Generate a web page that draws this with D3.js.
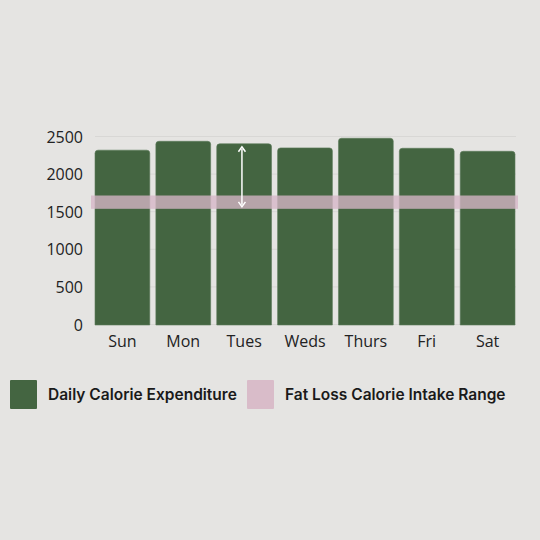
<!DOCTYPE html>
<html>
<head>
<meta charset="utf-8">
<script src="https://cdn.jsdelivr.net/npm/d3@7"></script>
<style>
  body { margin: 0; background: #e5e4e2; }
  svg { display: block; }
</style>
</head>
<body>
<div id="chart"></div>
<script>
  // data
  let days = ["Sun", "Mon", "Tues", "Weds", "Thurs", "Fri", "Sat"];
  let calories = [2325, 2443, 2410, 2355, 2483, 2350, 2310];
  let intakeRange = [1545, 1722];
  let yTicks = [0, 500, 1000, 1500, 2000, 2500];
  let legendLabels = ["Daily Calorie Expenditure", "Fat Loss Calorie Intake Range"];

  const width = 540, height = 540;
  const margin = { top: 137, bottom: 215, left: 95, right: 25 };
  const barColor = "#446541";
  const bandColor = "rgba(214, 182, 198, 0.78)";

  const svg = d3.select("#chart").append("svg")
    .attr("width", width)
    .attr("height", height);

  svg.append("rect").attr("width", width).attr("height", height).attr("fill", "#e5e4e2");

  const x = d3.scaleBand()
    .domain(days)
    .range([margin.left, width - margin.right])
    .paddingInner(0.1)
    .paddingOuter(0);

  const y = d3.scaleLinear()
    .domain([0, 2500])
    .range([325, margin.top]);

  // gridlines
  svg.append("g")
    .selectAll("line")
    .data(yTicks)
    .join("line")
    .attr("x1", margin.left)
    .attr("x2", width - margin.right + 1)
    .attr("y1", d => y(d) - 0.5)
    .attr("y2", d => y(d) - 0.5)
    .attr("stroke", "#d8d7d5")
    .attr("stroke-width", 1);

  // y axis labels
  svg.append("g")
    .attr("transform", `translate(${margin.left - 12},0)`)
    .call(d3.axisLeft(y).tickValues(yTicks).tickFormat(d3.format("d")).tickSize(0).tickPadding(0))
    .call(g => g.select(".domain").remove())
    .call(g => g.selectAll("text")
      .attr("font-family", "Open Sans, sans-serif")
      .attr("font-size", 16)
      .attr("fill", "#222")
      .attr("dy", "0.32em"));

  // bars with rounded top corners
  function barPath(x0, y0, w, h, r) {
    return `M${x0},${y0 + h}V${y0 + r}Q${x0},${y0} ${x0 + r},${y0}H${x0 + w - r}Q${x0 + w},${y0} ${x0 + w},${y0 + r}V${y0 + h}Z`;
  }

  svg.append("g")
    .selectAll("path")
    .data(days)
    .join("path")
    .attr("d", (d, i) => barPath(x(d), y(calories[i]), x.bandwidth(), y(0) - y(calories[i]), 3))
    .attr("fill", barColor)
    .attr("stroke", "#5d7a5a")
    .attr("stroke-width", 0.6);

  // x axis labels
  svg.append("g")
    .attr("transform", `translate(0,${y(0) + 8})`)
    .call(d3.axisBottom(x).tickSize(0).tickPadding(0))
    .call(g => g.select(".domain").remove())
    .call(g => g.selectAll("text")
      .attr("font-family", "Open Sans, sans-serif")
      .attr("font-size", 16)
      .attr("fill", "#222")
      .attr("dy", "0.85em"));

  // intake range band
  svg.append("rect")
    .attr("x", margin.left - 4)
    .attr("width", width - margin.left - margin.right + 7)
    .attr("y", y(intakeRange[1]))
    .attr("height", y(intakeRange[0]) - y(intakeRange[1]))
    .attr("fill", bandColor);

  // double arrow on Tues
  const ax = x("Tues") + x.bandwidth() * 0.46;
  const ay1 = y(calories[2]) + 3, ay2 = y(intakeRange[0]) - 2;
  svg.append("line")
    .attr("x1", ax).attr("x2", ax)
    .attr("y1", ay1 + 2).attr("y2", ay2 - 2)
    .attr("stroke", "#fff").attr("stroke-width", 1.5);
  svg.append("path")
    .attr("d", `M${ax - 3.5},${ay1 + 5}L${ax},${ay1}L${ax + 3.5},${ay1 + 5}`)
    .attr("fill", "none").attr("stroke", "#fff").attr("stroke-width", 1.5);
  svg.append("path")
    .attr("d", `M${ax - 3.5},${ay2 - 5}L${ax},${ay2}L${ax + 3.5},${ay2 - 5}`)
    .attr("fill", "none").attr("stroke", "#fff").attr("stroke-width", 1.5);

  // legend
  const legendX = [10, 247];
  const legendColors = [barColor, "#d9bcc9"];
  const legend = svg.append("g")
    .selectAll("g")
    .data(legendLabels)
    .join("g")
    .attr("transform", (d, i) => `translate(${legendX[i]},380)`);

  legend.append("rect")
    .attr("width", 27).attr("height", 29).attr("rx", 1)
    .attr("fill", (d, i) => legendColors[i]);

  legend.append("text")
    .attr("x", 38)
    .attr("y", 20)
    .attr("font-family", "Inter, sans-serif")
    .attr("font-weight", 600)
    .attr("font-size", 15.5)
    .attr("fill", "#1a1a1a")
    .text(d => d);
</script>
</body>
</html>
